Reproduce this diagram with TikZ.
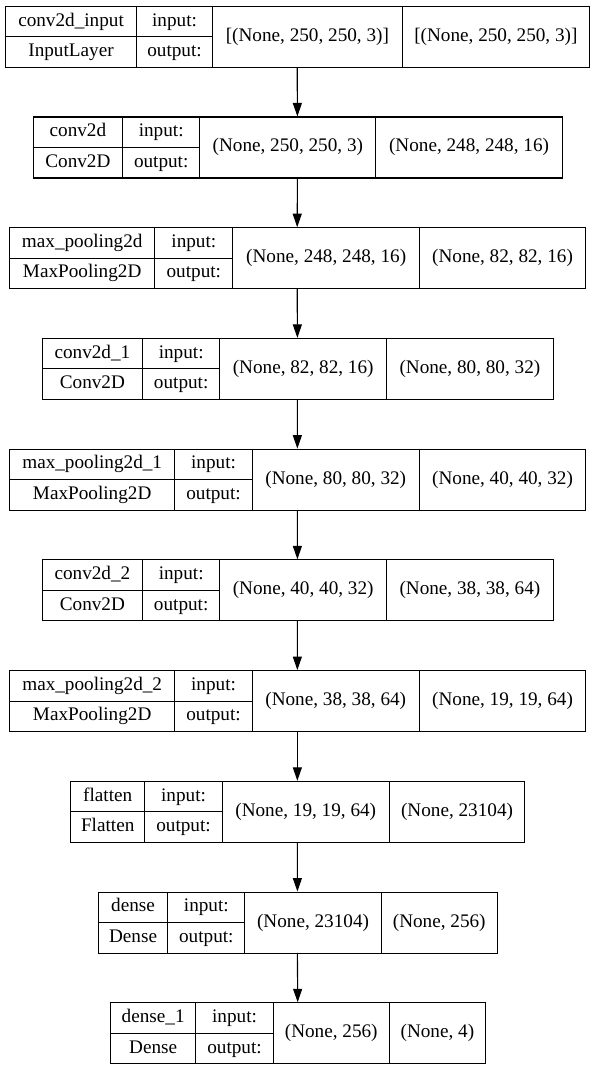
\documentclass[tikz,border=0pt]{standalone}
\usepackage{fontspec}
\setmainfont{Liberation Serif}
\usetikzlibrary{arrows.meta,positioning}

\tikzset{
  cell/.style={draw, line width=1.1pt, inner sep=0pt, anchor=north west,
    text height=13pt, text depth=4pt, font=\fontsize{19.2}{22}\selectfont},
  layerbox/.style={inner sep=0pt, anchor=north west, minimum height=61pt},
  flow/.style={-{Triangle[length=13.5pt,width=9pt]}, line width=1.1pt},
}

\begin{document}
\begin{tikzpicture}[x=1pt,y=-1pt]
    \useasboundingbox (0,0) rectangle (595,1069); % page = reference size

    % row / left edge / three dividers / right edge / name / class / in / out
    \foreach \r/\xa/\xb/\xc/\xd/\xe/\nm/\ty/\shin/\shout in {
      0/5/136/212/401.7/589/conv2d\_input/InputLayer/{[(None, 250, 250, 3)]}/{[(None, 250, 250, 3)]},
      1/32.7/122/199.3/375.3/561.7/conv2d/Conv2D/{(None, 250, 250, 3)}/{(None, 248, 248, 16)},
      2/9/154.3/232.3/419/585/max\_pooling2d/MaxPooling2D/{(None, 248, 248, 16)}/{(None, 82, 82, 16)},
      3/41.7/142/219.3/386/552.7/conv2d\_1/Conv2D/{(None, 82, 82, 16)}/{(None, 80, 80, 32)},
      4/9/174.3/251.7/418.7/585.3/max\_pooling2d\_1/MaxPooling2D/{(None, 80, 80, 32)}/{(None, 40, 40, 32)},
      5/41.7/142/219.3/386/552.7/conv2d\_2/Conv2D/{(None, 40, 40, 32)}/{(None, 38, 38, 64)},
      6/9/174.3/251.7/418.7/585.3/max\_pooling2d\_2/MaxPooling2D/{(None, 38, 38, 64)}/{(None, 19, 19, 64)},
      7/70/144.3/221.7/388.7/524.3/flatten/Flatten/{(None, 19, 19, 64)}/{(None, 23104)},
      8/97.7/167.3/244.3/380.7/496.7/dense/Dense/{(None, 23104)}/{(None, 256)},
      9/110/195.3/272.7/388.7/485/dense\_1/Dense/{(None, 256)}/{(None, 4)}}{
      \pgfmathsetmacro\ytop{5.7+110.73*\r}
      \pgfmathsetmacro\ymid{\ytop+30.5}
      \pgfmathsetmacro\wname{\xb-\xa}
      \pgfmathsetmacro\wio{\xc-\xb}
      \pgfmathsetmacro\wsin{\xd-\xc}
      \pgfmathsetmacro\wsout{\xe-\xd}
      \pgfmathsetmacro\wall{\xe-\xa}
      \node[layerbox, minimum width=\wall pt] (L\r) at (\xa,\ytop) {}; % whole layer
      \node[cell, minimum width=\wname pt, minimum height=30.5pt] (nm\r) at (\xa,\ytop) {\nm};
      \node[cell, minimum width=\wname pt, minimum height=30.5pt] (ty\r) at (\xa,\ymid) {\ty};
      \node[cell, minimum width=\wio pt, minimum height=30.5pt] (in\r) at (\xb,\ytop) {input:};
      \node[cell, minimum width=\wio pt, minimum height=30.5pt] (out\r) at (\xb,\ymid) {output:};
      \node[cell, minimum width=\wsin pt, minimum height=61pt] (shin\r) at (\xc,\ytop) {\shin};
      \node[cell, minimum width=\wsout pt, minimum height=61pt] (shout\r) at (\xd,\ytop) {\shout};
      \ifnum\r>0
        \pgfmathtruncatemacro\p{\r-1}
        \draw[flow] (L\p.south) -- (L\r.north); % layer to layer
      \fi
    }
\end{tikzpicture}
\end{document}
